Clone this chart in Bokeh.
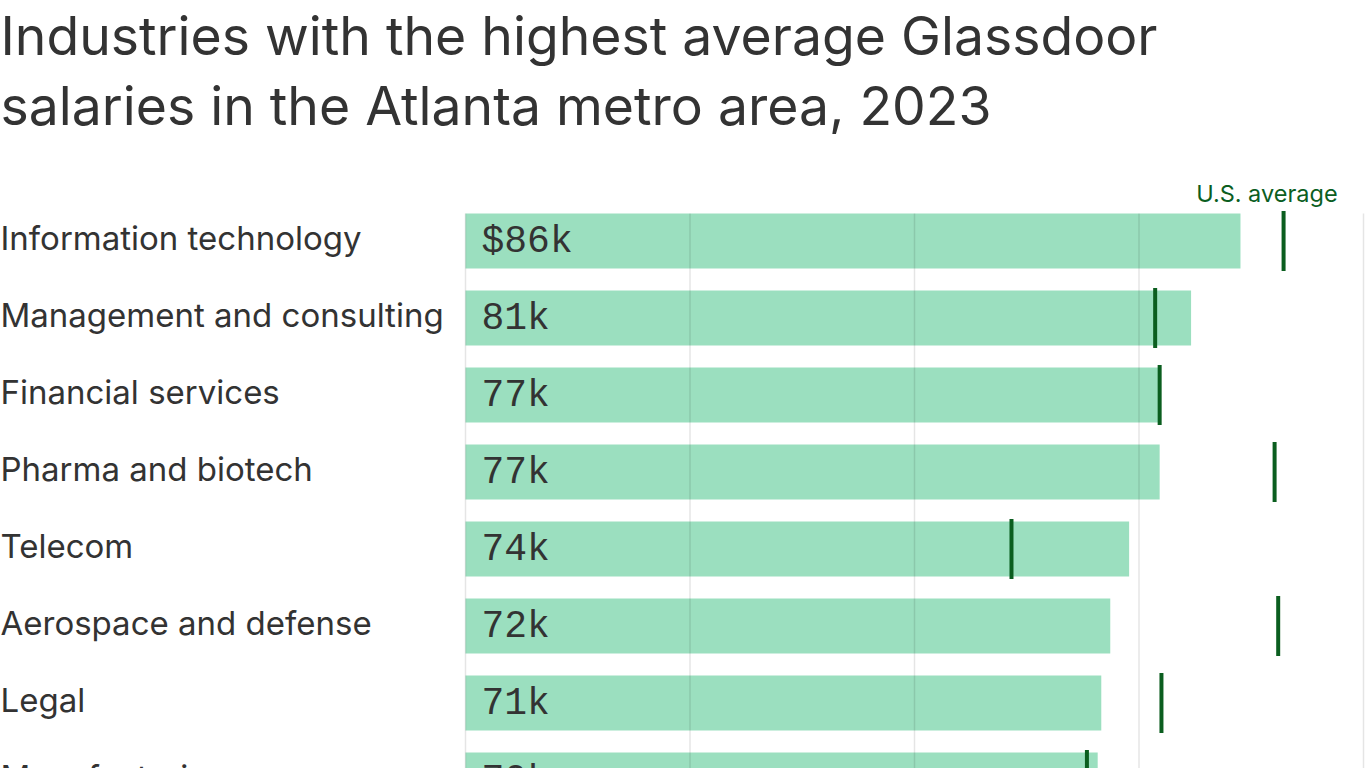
from bokeh.plotting import figure
from bokeh.models import Range1d, ColumnDataSource
from bokeh.core.properties import value
from bokeh.embed import file_html
from bokeh.resources import INLINE

# ---- data ----
categories = ["Information technology", "Management and consulting", "Financial services",
              "Pharma and biotech", "Telecom", "Aerospace and defense", "Legal", "Manufacturing"]
atlanta_salary_k = [86.3, 80.8, 77.2, 77.3, 73.9, 71.8, 70.8, 70.4]
us_average_k = [91.1, 76.8, 77.3, 90.1, 60.8, 90.5, 77.5, 69.2]
grid_ticks_k = [0, 25, 50, 75, 100]
title_lines = ["Industries with the highest average Glassdoor",
               "salaries in the Atlanta metro area, 2023"]

# ---- layout constants (pixels) ----
W, H = 1366, 768
PX_PER_K = 8.98
ZERO_PX = 465              # screen x of 0k
ROW_PX = 77
ROW0_PX = 240.5            # centre of first row
BAR_H = 55 / ROW_PX

x_start = -ZERO_PX / PX_PER_K
x_end = x_start + W / PX_PER_K
y_top = -ROW0_PX / ROW_PX
y_bottom = y_top + H / ROW_PX

rows = list(range(len(categories)))
labels = [("$" if i == 0 else "") + f"{round(v)}k" for i, v in enumerate(atlanta_salary_k)]

src = ColumnDataSource(dict(row=rows, cat=categories, val=atlanta_salary_k,
                            us=us_average_k, lab=labels,
                            y0=[r - 0.39 for r in rows], y1=[r + 0.39 for r in rows]))

p = figure(width=W, height=H, x_range=Range1d(x_start, x_end),
           y_range=Range1d(y_bottom, y_top), output_backend="svg",
           toolbar_location=None, min_border=0,
           x_axis_location=None, y_axis_location=None)
p.grid.visible = False
p.outline_line_color = None
p.background_fill_color = "white"
p.border_fill_color = "white"

TEXT = "#333333"
GREEN_BAR = "#9BDFBF"
DARK_GREEN = "#0B5E1F"

# bars
p.hbar(y="row", left=0, right="val", height=BAR_H, source=src,
       fill_color=GREEN_BAR, line_color=None)

# grid lines (drawn over the bars)
p.segment(x0=grid_ticks_k, x1=grid_ticks_k,
          y0=[-BAR_H / 2] * len(grid_ticks_k), y1=[len(categories) + 1] * len(grid_ticks_k),
          line_color="#000000", line_alpha=0.1, line_width=1.5)

# U.S. average marks
p.segment(x0="us", x1="us", y0="y0", y1="y1", source=src,
          line_color=DARK_GREEN, line_width=4)

# category labels
p.text(x=x_start, y="row", text="cat", source=src, text_font=value("Inter"),
       text_font_size="33px", text_color=TEXT, text_baseline="alphabetic",
       text_align="left", y_offset=-3.5)

# value labels
p.text(x=0, y="row", text="lab", source=src, text_font=value("Liberation Mono"),
       text_font_size="38px", text_color=TEXT, text_baseline="alphabetic",
       text_align="left", x_offset=16, y_offset=0.5)

# "U.S. average" label
p.text(x=[us_average_k[0]], y=[0], text=["U.S. average"], text_font=value("Inter"),
       text_font_size="23.5px", text_color=DARK_GREEN, text_baseline="alphabetic",
       text_align="right", x_offset=54, y_offset=-47.5)

# title
title_y = [(35 - ROW0_PX) / ROW_PX, (105 - ROW0_PX) / ROW_PX]
p.text(x=[x_start] * 2, y=title_y, text=title_lines, text_font=value("Inter"),
       text_font_size="53.5px", text_color=TEXT, text_baseline="alphabetic",
       text_align="left")

open("out.html", "w").write(file_html(p, INLINE))
